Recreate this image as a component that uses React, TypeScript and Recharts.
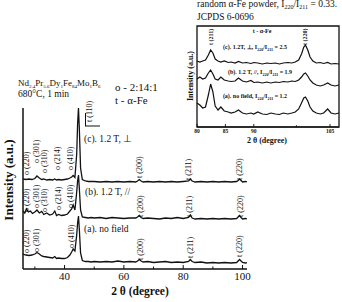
import React from "react";
import { LineChart, Line, XAxis, YAxis, ReferenceDot, ReferenceArea } from "recharts";

const SERIF = '"Liberation Serif", "Times New Roman", serif';

// main XRD patterns: [2θ (deg), intensity above the curve's own baseline]
const noField: [number, number][] = [
  [26, 9], [27, 8], [28, 7.5], [29, 8], [30, 9], [30.7, 10.5], [31.5, 9], [32.3, 7], [33, 6.5], [34, 6],
  [35, 5.5], [36, 5], [36.7, 6.5], [37.3, 4.5], [38, 5], [39, 4.5], [40, 4.5], [41, 5.5], [41.8, 8], [42.4, 11],
  [42.9, 14], [43.5, 12], [44.1, 28], [44.4, 40], [44.7, 47], [45, 33], [45.4, 10], [46, 2.5], [47, 1.5], [48, 1.5],
  [49, 1], [50, 1.5], [52, 1], [54, 1.5], [56, 1], [58, 2], [60, 1], [62, 1.5], [64, 1], [64.6, 2],
  [65.2, 3.5], [65.8, 2], [66.5, 1], [68, 1.5], [70, 0.5], [72, 1], [74, 1.5], [76, 0.5], [78, 1], [80, 0.5],
  [81.8, 1.5], [82.4, 3.5], [83, 1.5], [84, 0.5], [86, 1], [88, 0], [90, 0.5], [92, 0], [94, 0.5], [96, 0],
  [98, 0.5], [98.5, 2], [99, 3.5], [99.5, 2], [100, 0.5], [101, 0], [101.5, 0.5],
];
const fieldPar: [number, number][] = [
  [26, 8], [26.6, 6], [27.2, 10], [27.8, 7], [28.5, 8], [29.2, 5.5], [30, 7], [30.7, 9], [31.5, 6], [32.3, 7.5],
  [33, 4.5], [34, 6], [35, 4], [36, 5], [36.7, 8], [37.3, 3.5], [38, 4.5], [39, 3.5], [40, 4], [41, 5],
  [41.8, 8], [42.4, 10], [42.9, 14], [43.5, 9], [44.1, 27], [44.4, 38], [44.7, 44], [45, 30], [45.4, 9], [46, 2],
  [47, 1.5], [48, 1], [49, 1.5], [50, 1], [52, 1.5], [54, 0.5], [56, 1.5], [58, 1], [60, 0.5], [62, 1],
  [64, 1], [64.6, 2], [65.2, 3.5], [65.8, 1.5], [66.5, 0.5], [68, 1], [70, 0.5], [72, 0], [74, 1], [76, 0.5],
  [78, 1.5], [80, 0.5], [81.8, 1.5], [82.4, 4], [83, 1], [84, 0], [86, 0.5], [88, 0], [90, 0.5], [92, 0],
  [94, 0.5], [96, 0], [98, 0.5], [98.5, 2], [99, 3.5], [99.5, 1.5], [100, 0], [101, 0.5], [101.5, 0],
];
const fieldPerp: [number, number][] = [
  [26, 3], [27, 2.5], [28, 3], [29, 2.5], [30, 3.5], [30.7, 6], [31.5, 4], [32.3, 2.5], [33, 3], [34, 2],
  [35, 2.5], [36, 2], [36.7, 3], [37.3, 2], [38, 2.5], [39, 2], [40, 2.5], [41, 3], [41.8, 4], [42.4, 5],
  [42.9, 6.5], [43.5, 4.5], [44.1, 28], [44.4, 58], [44.7, 74], [45, 52], [45.4, 14], [46, 2.5], [47, 1], [48, 0.5],
  [50, 0.5], [52, 0], [54, 0.5], [56, 0], [58, 0.5], [60, 0], [62, 0.5], [64, 0], [64.6, 1], [65.2, 2.5],
  [65.8, 1], [66.5, 0], [68, 0.5], [70, 0], [72, 0.5], [74, 0], [76, 0.5], [78, 0], [80, 0.5], [81.8, 1],
  [82.4, 3], [83, 1], [84, 0], [86, 0.5], [88, 0], [90, 0.5], [92, 0], [94, 0.5], [96, 0], [98, 0.5],
  [98.5, 1.5], [99, 3], [99.5, 1.5], [100, 0], [101, 0.5], [101.5, 0],
];
const mainOffsets = [6, 50, 87];

// inset, 80-105°
const insetNoField: [number, number][] = [
  [80, 12], [80.5, 10], [81, 7], [81.5, 8], [82, 20], [82.4, 31], [82.8, 23], [83.2, 9], [83.7, 5], [84.2, 8],
  [84.8, 4], [85.5, 3], [86, 2], [86.7, 3], [87.3, 5], [88, 2], [88.7, 1], [89.5, 2], [90, 1], [90.7, 3],
  [91.5, 1], [92.3, 0.5], [93, 2], [93.8, 1], [94.5, 0.5], [95.2, 2], [96, 1], [96.7, 2], [97.3, 3], [97.9, 6],
  [98.4, 12], [98.8, 17], [99.1, 18], [99.5, 14], [99.9, 8], [100.4, 4], [101, 2], [101.7, 1], [102.3, 2], [103, 6],
  [103.6, 2], [104.3, 1], [105, 2],
];
const insetPar: [number, number][] = [
  [80, 6], [80.5, 8], [81, 6], [81.5, 7], [82, 12], [82.4, 15], [82.8, 11], [83.2, 6], [83.7, 5], [84.2, 8],
  [84.8, 5], [85.5, 4], [86, 3.5], [86.7, 4], [87.3, 7], [88, 4], [88.7, 3], [89.5, 4.5], [90, 2.5], [90.7, 3],
  [91.5, 2], [92.3, 3], [93, 2], [93.8, 3], [94.5, 2.5], [95.2, 3.5], [96, 3], [96.7, 4], [97.3, 3.5], [97.9, 5],
  [98.4, 8], [98.8, 11], [99.1, 12], [99.5, 9], [99.9, 5], [100.4, 2], [101, 0], [101.7, -1], [102.3, 0], [103, 2],
  [103.6, 0], [104.3, -1], [105, 0],
];
const insetPerp: [number, number][] = [
  [80, 3], [80.5, 2], [81, 3], [81.5, 4], [82, 9], [82.4, 14], [82.8, 11], [83.2, 5], [83.7, 3], [84.2, 2],
  [84.8, 3], [85.5, 1.5], [86, 2], [86.7, 1], [87.3, 2.5], [88, 1], [88.7, 1.5], [89.5, 0.5], [90, 1.5], [90.7, 1],
  [91.5, 0], [92.3, 1], [93, 0.5], [93.8, 1], [94.5, 0], [95.2, 1], [96, 1.5], [96.7, 1], [97.3, 2], [97.9, 4],
  [98.4, 10], [98.8, 17], [99.1, 19], [99.5, 14], [99.9, 7], [100.4, 3], [101, 1], [101.7, 1.5], [102.3, 0.5], [103, 1.5],
  [103.6, 0], [104.3, 0.5], [105, 0],
];
const insetOffsets = [12, 42, 63];

const mainTicks = [30, 40, 50, 60, 70, 80, 90, 100];
const insetTicks = [80, 82.5, 85, 87.5, 90, 92.5, 95, 97.5, 100, 102.5, 105];

// peak indexing: [text, 2θ, height where the label starts]
const mainPeakLabels: [string, number, number][] = [
  ["o (220)", 27.3, 94], ["o (301)", 30.4, 106], ["o (310)", 33.4, 96], ["o (214)", 37.5, 99], ["o (410)", 41.9, 99],
  ["t (200)", 65.2, 91], ["t (211)", 81.75, 89], ["t (220)", 99.0, 89],
  ["o (220)", 27.3, 57], ["o (301)", 30.7, 61], ["o (310)", 33.4, 57], ["o (214)", 37.8, 59], ["o (410)", 41.9, 61],
  ["t (200)", 65.5, 52], ["t (211)", 82.1, 52], ["t (220)", 99.3, 52],
  ["o (220)", 27.3, 16], ["o (301)", 30.7, 17], ["o (410)", 42.2, 21],
  ["t (200)", 65.5, 9], ["t (211)", 82.4, 11], ["t (220)", 99.0, 12],
];
const insetPeakLabels: [string, number, number][] = [
  ["t (211)", 82.4, 82],
  ["t (220)", 99.0, 82],
];

const toRows = (pts: [number, number][], off: number) => pts.map(([a, i]) => ({ a, i: i + off }));

function UpLabel(props: any) {
  const vb = props.viewBox || {};
  const x = (vb.x ?? 0) + (vb.width ?? 0) / 2;
  const y = (vb.y ?? 0) + (vb.height ?? 0) / 2;
  return (
    <text
      transform={`translate(${x},${y}) rotate(-90)`}
      fontFamily={SERIF}
      fontSize={props.size ?? 8}
      fontWeight={props.bold ? 700 : 400}
      dominantBaseline="central"
      fill="#111"
    >
      {props.text}
    </text>
  );
}

function MainTick(props: any) {
  const { x, y, payload } = props;
  const major = payload.value % 20 === 0;
  return (
    <g>
      <line x1={x} x2={x} y1={y} y2={y - (major ? 4 : 2.5)} stroke="#111" strokeWidth={1} />
      {major && (
        <text x={x} y={y + 11} textAnchor="middle" fontFamily={SERIF} fontSize={11} fill="#111">
          {payload.value}
        </text>
      )}
    </g>
  );
}

function InsetTick(props: any) {
  const { x, y, payload } = props;
  const major = payload.value % 5 === 0;
  return (
    <g>
      <line x1={x} x2={x} y1={y} y2={y - (major ? 3 : 1.8)} stroke="#111" strokeWidth={0.9} />
      {major && (
        <text x={x} y={y + 5.5} textAnchor="middle" fontFamily={SERIF} fontSize={5.5} fontWeight={700} fill="#111">
          {payload.value}
        </text>
      )}
    </g>
  );
}

const Ratio = ({ value }: { value: string }) => (
  <>
    I<tspan fontSize={4} dy={1.5}>220</tspan>
    <tspan dy={-1.5}>/I</tspan>
    <tspan fontSize={4} dy={1.5}>211</tspan>
    <tspan dy={-1.5}> = {value}</tspan>
  </>
);

export default function App() {
  const mainSeries = [noField, fieldPar, fieldPerp];
  const insetSeries = [insetNoField, insetPar, insetPerp];
  return (
    <div style={{ position: "absolute", left: 0, top: 0, width: 342, height: 302, background: "#fff", overflow: "hidden" }}>
      <div style={{ position: "absolute", left: 0, top: 0 }}>
        <LineChart width={342} height={302} margin={{ top: 108, right: 95, bottom: 0, left: 0 }}>
          <XAxis
            type="number"
            dataKey="a"
            domain={[26, 101.5]}
            ticks={mainTicks}
            tick={<MainTick />}
            tickSize={0}
            tickMargin={0}
            tickLine={false}
            height={33}
            axisLine={{ stroke: "#111", strokeWidth: 1.5 }}
            allowDataOverflow
          />
          <YAxis type="number" domain={[0, 161]} width={23} tick={false} tickLine={false} axisLine={{ stroke: "#111", strokeWidth: 1.5 }} />
          {mainSeries.map((s, k) => (
            <Line
              key={k}
              data={toRows(s, mainOffsets[k])}
              dataKey="i"
              type="linear"
              dot={false}
              stroke="#111"
              strokeWidth={1.3}
              isAnimationActive={false}
            />
          ))}
          {mainPeakLabels.map(([t, a, v], k) => (
            <ReferenceDot key={k} x={a} y={v} r={0} fill="none" stroke="none" ifOverflow="visible" label={<UpLabel text={t} size={8} />} />
          ))}
        </LineChart>
      </div>

      <div style={{ position: "absolute", left: 0, top: 0 }}>
        <LineChart width={342} height={302} margin={{ top: 26, right: 3, bottom: 155, left: 197 }}>
          <XAxis
            type="number"
            dataKey="a"
            domain={[80, 105]}
            ticks={insetTicks}
            tick={<InsetTick />}
            tickSize={0}
            tickMargin={0}
            tickLine={false}
            height={20}
            axisLine={{ stroke: "#111", strokeWidth: 1.2 }}
          />
          <YAxis type="number" domain={[0, 101]} hide width={0} />
          <ReferenceArea x1={80} x2={105} y1={0} y2={101} fill="none" stroke="#111" strokeWidth={1.3} ifOverflow="visible" />
          {insetSeries.map((s, k) => (
            <Line
              key={k}
              data={toRows(s, insetOffsets[k])}
              dataKey="i"
              type="linear"
              dot={false}
              stroke="#111"
              strokeWidth={1.2}
              isAnimationActive={false}
            />
          ))}
          {insetPeakLabels.map(([t, a, v], k) => (
            <ReferenceDot key={k} x={a} y={v} r={0} fill="none" stroke="none" ifOverflow="visible" label={<UpLabel text={t} size={6} bold />} />
          ))}
        </LineChart>
      </div>

      <svg width={342} height={302} style={{ position: "absolute", left: 0, top: 0, pointerEvents: "none" }} fontFamily={SERIF} fill="#111">
        {/* main axis titles */}
        <text x={140} y={295} textAnchor="middle" fontSize={11.5} fontWeight={700}>2 θ (degree)</text>
        <text transform="translate(8,180) rotate(-90)" textAnchor="middle" dominantBaseline="central" fontSize={13} fontWeight={700}>
          Intensity (a.u.)
        </text>

        {/* sample / phase legend */}
        <text x={18} y={86} fontSize={9}>
          Nd<tspan fontSize={5} dy={2}>2.4</tspan>
          <tspan dy={-2}>Pr</tspan><tspan fontSize={5} dy={2}>5.6</tspan>
          <tspan dy={-2}>Dy</tspan><tspan fontSize={5} dy={2}>1</tspan>
          <tspan dy={-2}>Fe</tspan><tspan fontSize={5} dy={2}>84</tspan>
          <tspan dy={-2}>Mo</tspan><tspan fontSize={5} dy={2}>1</tspan>
          <tspan dy={-2}>B</tspan><tspan fontSize={5} dy={2}>6</tspan>
        </text>
        <text x={18} y={97} fontSize={9.5}>680°C, 1 min</text>
        <text x={115} y={91} fontSize={11}>o - 2:14:1</text>
        <text x={115} y={104} fontSize={11}>t - α-Fe</text>

        {/* curve names */}
        <text x={84} y={142} fontSize={9.5}>(c). 1.2 T, ⊥</text>
        <text x={85} y={195} fontSize={9.5}>(b). 1.2 T, //</text>
        <text x={84} y={232} fontSize={9.5}>(a). no field</text>

        {/* α-Fe (110) marker */}
        <text transform="translate(89,122) rotate(-90)" dominantBaseline="central" fontSize={8}>t (110)</text>
        <line x1={85.5} x2={85.5} y1={113} y2={126} stroke="#111" strokeWidth={1} />
        <line x1={85} x2={100} y1={126} y2={126} stroke="#111" strokeWidth={1} />

        {/* inset texts */}
        <text x={197} y={7} fontSize={9.5}>
          random α-Fe powder, I<tspan fontSize={6} dy={2}>220</tspan>
          <tspan dy={-2}>/I</tspan><tspan fontSize={6} dy={2}>211</tspan>
          <tspan dy={-2}> = 0.33.</tspan>
        </text>
        <text x={197} y={20} fontSize={9.5}>JCPDS 6-0696</text>
        <text x={262} y={33} textAnchor="middle" fontSize={6} fontWeight={700}>t - α-Fe</text>
        <text x={255} y={49} textAnchor="middle" fontSize={6} fontWeight={700}>(c). 1.2T, ⊥, <Ratio value="2.5" /></text>
        <text x={260} y={74} textAnchor="middle" fontSize={6} fontWeight={700}>(b). 1.2 T, //, <Ratio value="1.9" /></text>
        <text x={255} y={98} textAnchor="middle" fontSize={6} fontWeight={700}>(a). no field, <Ratio value="1.2" /></text>
        <text transform="translate(190,76) rotate(-90)" textAnchor="middle" dominantBaseline="central" fontSize={8} fontWeight={700}>
          Intensity (a.u.)
        </text>
        <text x={267} y={143} textAnchor="middle" fontSize={8} fontWeight={700}>2 θ (degree)</text>
      </svg>
    </div>
  );
}
